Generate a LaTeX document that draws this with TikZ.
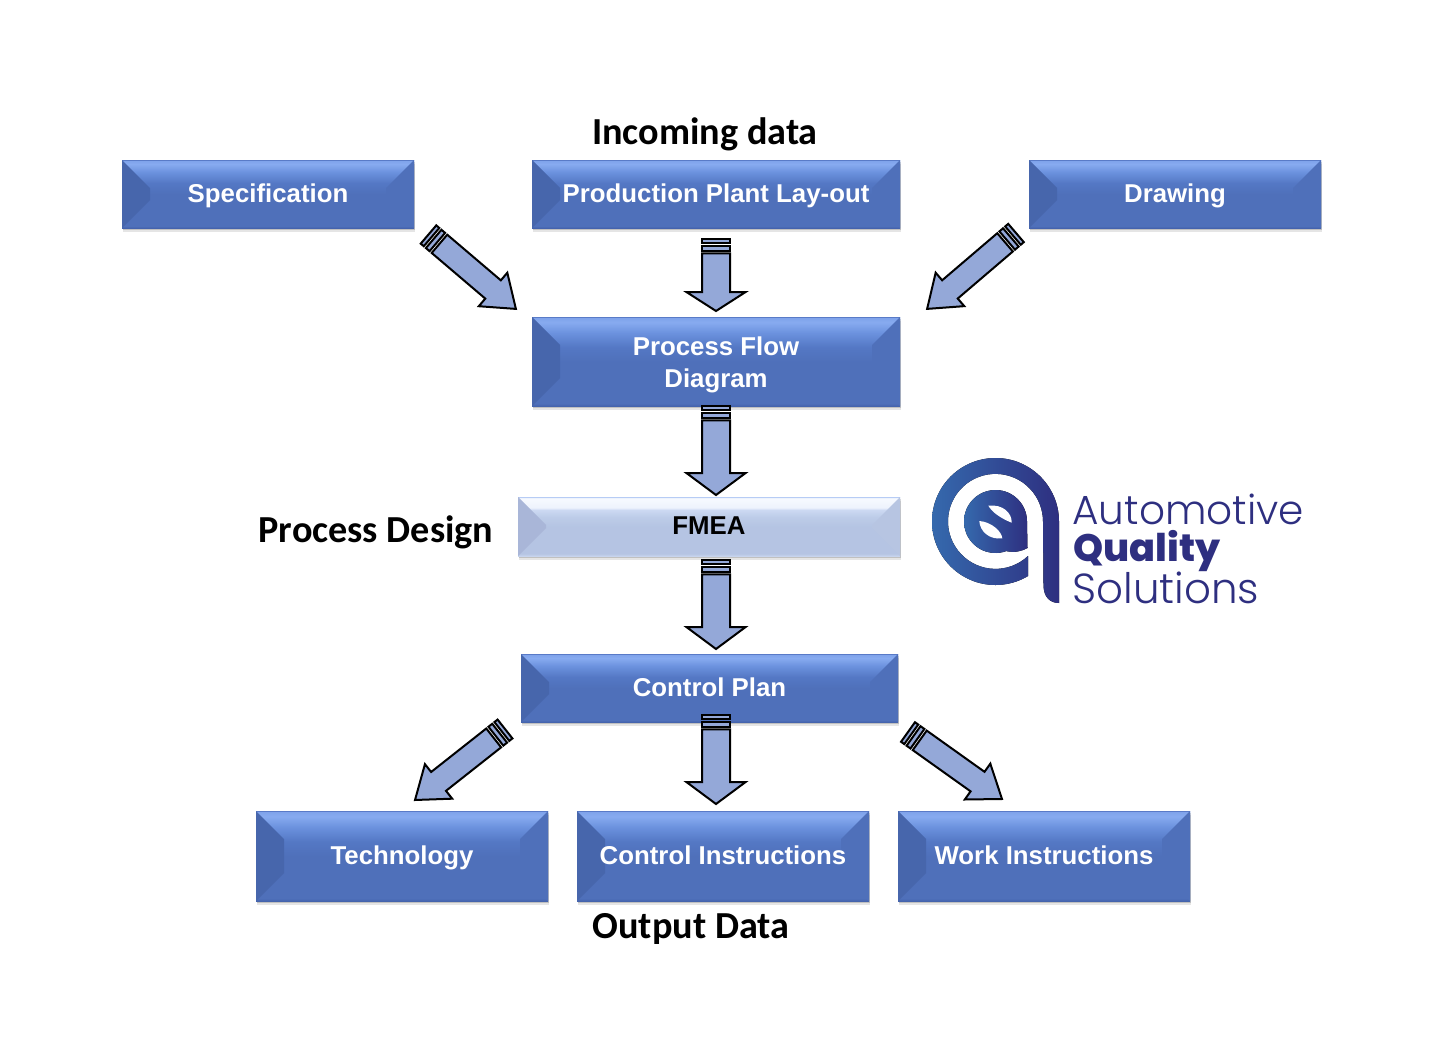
\documentclass[tikz,border=0pt]{standalone}
\usepackage{fontspec}
\setmainfont{Liberation Sans}
\newfontfamily\titlefont{Carlito}
\newfontfamily\logolight{Poppins Light}
\newfontfamily\logobold{Poppins ExtraBold}
\usetikzlibrary{calc}
\usetikzlibrary{shadows}

\definecolor{arrowblue}{HTML}{94A8D8}
\definecolor{logoleft}{HTML}{3569AD}
\definecolor{logoright}{HTML}{2E2F80}
\definecolor{panelleft}{HTML}{4766AC}
\definecolor{panelright}{HTML}{4F70BA}
\definecolor{fmealeft}{HTML}{A9B6D8}
\definecolor{fmearight}{HTML}{B7C5E2}
\pgfdeclareverticalshading{boxface}{100bp}{rgb(0bp)=(.27,.39,.68); rgb(25bp)=(.27,.39,.68); rgb(26.5bp)=(.31,.44,.73); rgb(50bp)=(.31,.44,.73); rgb(58bp)=(.33,.47,.77); rgb(66bp)=(.42,.57,.87); rgb(72bp)=(.53,.67,.94); rgb(74.5bp)=(.50,.64,.92); rgb(75bp)=(.35,.48,.78); rgb(100bp)=(.35,.48,.78)}
\pgfdeclareverticalshading{fmeaface}{100bp}{rgb(0bp)=(.78,.83,.93); rgb(25bp)=(.78,.83,.93); rgb(27bp)=(.71,.77,.89); rgb(50bp)=(.71,.77,.89); rgb(58bp)=(.74,.80,.91); rgb(64bp)=(.80,.85,.95); rgb(66bp)=(.93,.95,.99); rgb(74bp)=(.97,.98,1); rgb(75bp)=(.72,.80,.96); rgb(100bp)=(.72,.80,.96)}

\tikzset{
  bevelpanels/.style 2 args={path picture={
      \fill[#1] (path picture bounding box.north west)--([shift={(14pt,-14pt)}]path picture bounding box.north west)--([shift={(14pt,14pt)}]path picture bounding box.south west)--(path picture bounding box.south west)--cycle;
      \fill[#2] (path picture bounding box.north east)--([shift={(-14pt,-14pt)}]path picture bounding box.north east)--([shift={(-14pt,14pt)}]path picture bounding box.south east)--(path picture bounding box.south east)--cycle;
    }},
  bevelbox/.style={shade,shading=boxface,inner sep=0pt,align=center,text=white,
    font=\bfseries\fontsize{12.9}{16}\selectfont,
    drop shadow={shadow xshift=.5pt,shadow yshift=-1pt,opacity=.16,fill=black},
    drop shadow={shadow xshift=.5pt,shadow yshift=-2pt,opacity=.1,fill=black},
    bevelpanels={panelleft}{panelright}},
  singleline/.style={text height=11.2pt,text depth=3pt},
  fmeabox/.style={bevelbox,shading=fmeaface,text=black,bevelpanels={fmealeft}{fmearight}},
  titletext/.style={font=\titlefont\bfseries\fontsize{19.1}{21}\selectfont,inner sep=0pt},
  logoshade/.style={left color=logoleft,right color=logoright,draw=none},
  logotext/.style={anchor=base west,inner sep=0pt,text=logoright},
  stripepart/.style={draw=black,fill=arrowblue,line width=1pt,line join=miter}
}

% tail, tip, half width of the shaft, half width of the head, length of the head
\newcommand{\stripearrow}[5]{
  \path let \p1=($(#2)-(#1)$), \n1={atan2(\y1,\x1)}, \n2={veclen(\x1,\y1)} in
    \pgfextra{\xdef\arrang{\n1}\xdef\arrlen{\n2}};
  \pgfmathsetmacro\arrturn{\arrang}
  \pgfmathsetmacro\arrfull{\arrlen}
  \pgfmathsetmacro\arrbody{\arrfull-#5}
  \begin{scope}[shift={(#1)},rotate=\arrturn]
    \draw[stripepart] (0pt,-#3pt) rectangle (2pt,#3pt);
    \draw[stripepart] (3.4pt,-#3pt) rectangle (5.8pt,#3pt);
    \draw[stripepart] (7.2pt,-#3pt)--(\arrbody pt,-#3pt)--(\arrbody pt,-#4pt)--(\arrfull pt,0pt)--(\arrbody pt,#4pt)--(\arrbody pt,#3pt)--(7.2pt,#3pt)--cycle;
  \end{scope}
}

\begin{document}
\begin{tikzpicture}[x=0.5pt,y=-0.5pt]
\useasboundingbox (0,0) rectangle (1434,1060);

\node(incoming) at (705,134) [titletext] {Incoming data};
\node(design) at (376,532) [titletext] {Process Design};
\node(output) at (691,929) [titletext] {Output Data};

\node(spec) at (268,194) [bevelbox,singleline,minimum width=146pt,minimum height=34pt] {Specification};
\node(layout) at (716,194) [bevelbox,singleline,minimum width=184pt,minimum height=34pt] {Production Plant Lay-out};
\node(drawing) at (1175,194) [bevelbox,singleline,minimum width=146pt,minimum height=34pt] {Drawing};
\node(flow) at (716,361.5) [bevelbox,minimum width=184pt,minimum height=44.5pt] {\rule{0pt}{12.3pt}Process Flow\\Diagram};
\node(fmea) at (709,526.5) [fmeabox,singleline,minimum width=191pt,minimum height=29.5pt] {FMEA};
\node(control) at (709.5,688) [bevelbox,singleline,minimum width=188.5pt,minimum height=34pt] {Control Plan};
\node(tech) at (402,856) [bevelbox,singleline,minimum width=146pt,minimum height=45pt] {Technology};
\node(instr) at (723,856) [bevelbox,singleline,minimum width=146pt,minimum height=45pt] {Control Instructions};
\node(work) at (1044,856) [bevelbox,singleline,minimum width=146pt,minimum height=45pt] {Work Instructions};

% free ends of the block arrows
\coordinate(spectail) at (428.5,234.5); \coordinate(spectip) at (516,309);
\coordinate(layouttail) at (716,239); \coordinate(layouttip) at (716,311);
\coordinate(drawtail) at (1016,233); \coordinate(drawtip) at (927,309);
\coordinate(flowtail) at (716,406); \coordinate(flowtip) at (716,495);
\coordinate(fmeatail) at (716,560); \coordinate(fmeatip) at (716,649);
\coordinate(ctrltail) at (716,715); \coordinate(ctrltip) at (716,804);
\coordinate(techtail) at (505,729); \coordinate(techtip) at (415,800);
\coordinate(worktail) at (908,732); \coordinate(worktip) at (1002,799);

\stripearrow{spectail}{spectip}{6}{11}{15}
\stripearrow{layouttail}{layouttip}{7}{14.8}{9.5}
\stripearrow{drawtail}{drawtip}{6}{11}{15}
\stripearrow{flowtail}{flowtip}{7}{14.8}{11}
\stripearrow{fmeatail}{fmeatip}{7}{14.8}{11}
\stripearrow{ctrltail}{ctrltip}{7}{14.8}{11}
\stripearrow{techtail}{techtip}{6}{11}{15}
\stripearrow{worktail}{worktip}{6}{11}{15}

% logo
\fill[logoshade] (1059,521.5) arc[start angle=0,end angle=-300.8,radius=63.5]
  -- (1028,556) arc[start angle=-313.2,end angle=0,radius=47.5]
  -- (1043.5,585) .. controls (1043.5,597) and (1050,603) .. (1059,603) -- cycle;
\fill[logoshade] (1027,521.5) arc[start angle=0,end angle=-290,radius=31.5]
  .. controls (1015,553) and (1022,551) .. (1027.5,548) -- cycle;
\fill[white] (988.3,505.7) .. controls (1003,504) and (1012,513) .. (1011.7,522.7)
  .. controls (1000,518) and (992,512) .. cycle;
\fill[white] (979.3,521) .. controls (992,522) and (1002,532) .. (1002.3,538.3)
  .. controls (990,540) and (980,532) .. cycle;
\node(auto) at (1072,524) [logotext] {\logolight\fontsize{20.3}{22}\selectfont Automotive};
\node(quality) at (1073,561) [logotext] {\logobold\fontsize{19.1}{22}\selectfont Quality};
\node(solutions) at (1072,603) [logotext] {\logolight\fontsize{21}{22}\selectfont Solutions};
\end{tikzpicture}
\end{document}
